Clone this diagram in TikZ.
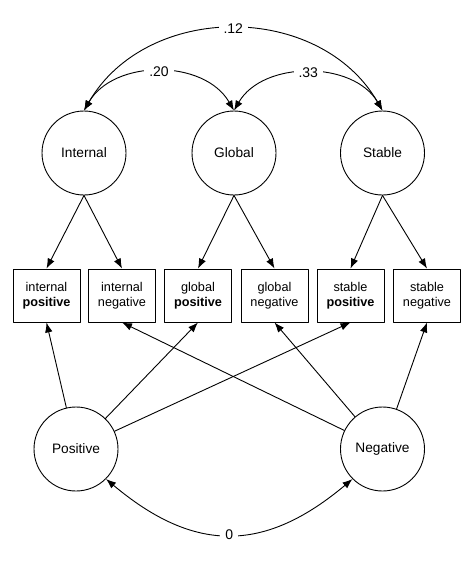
\documentclass[tikz,border=0pt]{standalone}
\usepackage{fontspec}
\setmainfont{Liberation Sans}
\usetikzlibrary{arrows.meta}
\begin{document}
\begin{tikzpicture}[x=1pt, y=-1pt, line width=0.9pt, line join=round, line cap=round, >={Latex[length=10pt,width=7.5pt]},
	latent/.style={draw, circle, minimum size=84pt, inner sep=0pt, font=\fontsize{13.7}{16}\selectfont},
	item/.style={draw, rectangle, minimum width=67pt, minimum height=53pt, inner sep=0pt, align=center, font=\fontsize{12.7}{15.5}\selectfont},
	coef/.style={fill=white, inner xsep=5pt, inner ysep=1pt, font=\fontsize{14}{16}\selectfont}]
	\useasboundingbox (0,0) rectangle (474,571);
	% latent factors
	\node[latent] (int) at (84,153) {Internal};
	\node[latent] (glo) at (234,153) {Global};
	\node[latent] (sta) at (382.5,153) {Stable};
	\node[latent] (pos) at (76,449) {Positive};
	\node[latent] (neg) at (382.5,449) {Negative};
	% observed items
	\node[item] (ip) at (46.5,295.5) {internal\\\textbf{positive}};
	\node[item] (in) at (122,295.5) {internal\\negative};
	\node[item] (gp) at (198,295.5) {global\\\textbf{positive}};
	\node[item] (gn) at (274.5,295.5) {global\\negative};
	\node[item] (sp) at (350.5,295.5) {stable\\\textbf{positive}};
	\node[item] (sn) at (427,295.5) {stable\\negative};
	% loadings
	\draw[->] (int.south)--(ip.north);
	\draw[->] (int.south)--(in.north);
	\draw[->] (glo.south)--(gp.north);
	\draw[->] (glo.south)--(gn.north);
	\draw[->] (sta.south)--(sp.north);
	\draw[->] (sta.south)--(sn.north);
	\draw[->] (pos)--(ip.south);
	\draw[->] (pos)--(gp.south);
	\draw[->] (pos)--(sp.south);
	\draw[->] (neg)--(in.south);
	\draw[->] (neg)--(gn.south);
	\draw[->] (neg)--(sn.south);
	% correlations
	\draw[<->] (int.north) to[out=60,in=120,looseness=1.08] node[coef]{.12} (sta.north);
	\draw[<->] (int.north) to[out=60,in=120,looseness=1.02] node[coef]{.20} (glo.north);
	\draw[<->] (sta.north) to[out=120,in=60,looseness=1.0] node[coef]{.33} (glo.north);
	\draw[<->] (pos.-45) to[out=-40,in=-140,looseness=1.2] node[coef]{0} (neg.-135);
\end{tikzpicture}
\end{document}
